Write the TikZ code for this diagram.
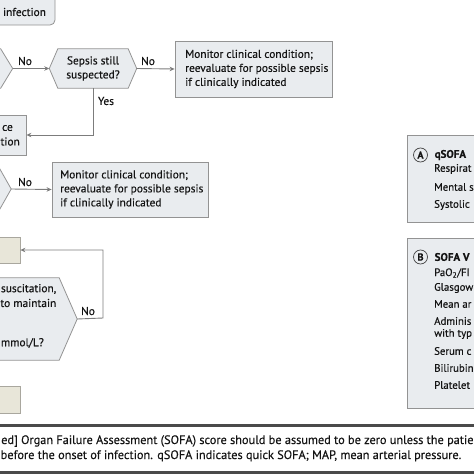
\documentclass[tikz,border=0pt]{standalone}
\usepackage{fontspec}
\setmainfont{PT Sans}[FakeBold=0.35]
\newfontfamily\footfont{PT Sans}[FakeBold=0.3]
\usetikzlibrary{calc,backgrounds,arrows.meta}
\definecolor{boxfill}{HTML}{E9ECEF}
\definecolor{boxline}{HTML}{939393}
\definecolor{beige}{HTML}{E8E6D9}
\definecolor{beigeline}{HTML}{A9A79E}
\definecolor{arrowc}{HTML}{7C7C7C}
\definecolor{txt}{HTML}{141414}
\definecolor{rulec}{HTML}{4A4A4A}
\definecolor{circc}{HTML}{444444}
\newcommand\myhexa[2]{%
  \path[decfill] (#1.west) -- ([xshift=#2]#1.north west) -- ([xshift=-#2]#1.north east)
    -- (#1.east) -- ([xshift=-#2]#1.south east) -- ([xshift=#2]#1.south west) -- cycle;}
\tikzset{
  box/.style={draw=boxline, fill=boxfill, line width=0.8pt, inner sep=0pt},
  rbox/.style={draw=boxline, fill=boxfill, line width=0.8pt, inner sep=0pt, rounded corners=5pt},
  tanbox/.style={draw=beigeline, fill=beige, line width=0.8pt, inner sep=0pt},
  decnode/.style={inner sep=0pt},
  decfill/.style={draw=boxline, fill=boxfill, line width=0.8pt},
  conn/.style={draw=arrowc, line width=0.9pt, -{Stealth[length=5pt,width=4.5pt]}},
  lbl/.style={inner sep=0pt},
  circ/.style={circle, draw=circc, line width=0.7pt, inner sep=0pt, minimum size=14pt,
    font=\fontsize{10}{10}\selectfont\bfseries},
  item/.style={inner sep=0pt, anchor=west, font=\fontsize{10.8}{14}\selectfont},
  foot/.style={inner sep=0pt, anchor=base west, font=\footfont\fontsize{12.3}{14}\selectfont},
}
\begin{document}
\begin{tikzpicture}[x=1pt, y=-1pt, font=\fontsize{11.4}{14}\selectfont, text=txt]
\useasboundingbox (0,0) rectangle (474,474);

% top box
\node[rbox, minimum width=90pt, minimum height=30pt] (infect) at (10,10) {};
\node[lbl] (inftxt) at (24.5,12) {infection};

% first row
\node[decnode, minimum width=105pt, minimum height=39pt] (d1) at (-40,68.5) {};
\node[decnode, minimum width=87pt, minimum height=39pt, align=center] (d2) at (93,68.5) {Sepsis still\\suspected?};
\node[box, minimum width=157pt, minimum height=56pt] (mon1) at (253.5,69) {};
\node[lbl, anchor=west, align=left] (mon1txt) at (185,69)
  {Monitor clinical condition;\\reevaluate for possible sepsis\\if clinically indicated};
\node[box, minimum width=66pt, minimum height=40pt] (assess) at (-7,135) {};
\node[lbl, anchor=east] (ass1) at (13,128) {ce};
\node[lbl, anchor=east] (ass2) at (20,141.5) {tion};

% second row
\node[decnode, minimum width=102pt, minimum height=42pt] (d3) at (-40,189) {};
\node[box, minimum width=156pt, minimum height=55pt] (mon2) at (130,189.5) {};
\node[lbl, anchor=west, align=left] (mon2txt) at (60,189.5)
  {Monitor clinical condition;\\reevaluate for possible sepsis\\if clinically indicated};

% sepsis / shock
\node[tanbox, minimum width=60pt, minimum height=26pt] (sepsis) at (-10,250) {};
\node[decnode, minimum width=227pt, minimum height=82pt] (d4) at (-36.5,319) {};
\node[lbl, anchor=east] (d4a) at (56.5,289) {suscitation,};
\node[lbl, anchor=east] (d4b) at (56.5,303) {to maintain};
\node[lbl, anchor=east] (d4c) at (44,343) {mmol/L?};
\node[tanbox, minimum width=60pt, minimum height=27pt] (shock) at (-10,399.5) {};

\begin{scope}[on background layer]
  \myhexa{d1}{12}
  \myhexa{d2}{8.5}
  \myhexa{d3}{12}
  \myhexa{d4}{18}
\end{scope}

% connectors
\draw[conn] (d1.east) -- (d2.west);
\node[lbl] (no1) at (25,61) {No};
\draw[conn] (d2.east) -- (mon1.west);
\node[lbl] (no2) at (148,61) {No};
\draw[conn] (d2.south) -- (d2.south |- assess.east) -- (assess.east);
\node[lbl] (yes1) at (106,101) {Yes};
\draw[conn] (d3.east) -- (mon2.west);
\node[lbl] (no3) at (25,182) {No};
\coordinate (turn) at (103,318);
\draw[conn] (d4.east) -- (turn) -- (turn |- sepsis.east) -- (sepsis.east);
\node[lbl] (no4) at (88,311) {No};

% qSOFA box
\node[box, minimum width=113pt, minimum height=87pt] (qsofa) at (463.5,178.5) {};
\node[circ] (ca) at (420.5,155) {A};
\node[item, font=\fontsize{11}{14}\selectfont\bfseries] (qt) at (434.5,155) {qSOFA};
\node[item] (q1) at (434,169) {Respirat};
\node[item] (q2) at (434,187) {Mental s};
\node[item] (q3) at (434,205) {Systolic};

% SOFA box
\node[box, minimum width=113pt, minimum height=170pt] (sofa) at (463.5,323) {};
\node[circ] (cb) at (420.5,257) {B};
\node[item, font=\fontsize{11}{14}\selectfont\bfseries] (st) at (434.5,257) {SOFA V};
\node[item] (s1) at (434,273) {PaO\textsubscript{2}/FI};
\node[item] (s2) at (434,288) {Glasgow};
\node[item] (s3) at (434,304) {Mean ar};
\node[item] (s4) at (434,321) {Adminis};
\node[item] (s5) at (434,334) {with typ};
\node[item] (s6) at (434,351) {Serum c};
\node[item] (s7) at (434,368) {Bilirubin};
\node[item] (s8) at (434,385) {Platelet};

% footer
\draw[rulec, line width=3pt] (-5,425.5) -- (480,425.5);
\node[foot] (f1) at (1,444) {ed] Organ Failure Assessment (SOFA) score should be assumed to be zero unless the patie};
\node[foot] (f2) at (0.5,459) {before the onset of infection. qSOFA indicates quick SOFA; MAP, mean arterial pressure.};
\draw[rulec, line width=3pt] (-5,472.5) -- (480,472.5);
\end{tikzpicture}
\end{document}
